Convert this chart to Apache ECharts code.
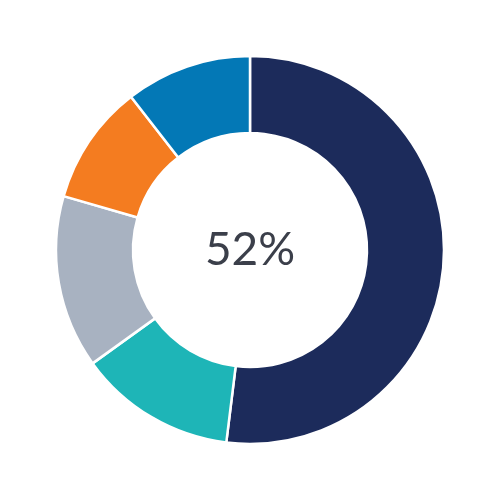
<!DOCTYPE html>
<html><head><meta charset="utf-8">
<script src="https://cdn.jsdelivr.net/npm/echarts@6/dist/echarts.min.js"></script>
<style>html,body{margin:0;padding:0;background:#fff}#c{width:500px;height:500px}</style>
</head><body><div id="c"></div>
<script>
const categories = ['A', 'B', 'C', 'D', 'E'];
const values = [51.9, 13.1, 14.4, 10.0, 10.5];
const colors = ['#1c2b5b', '#1eb5b7', '#a8b2c1', '#f47c20', '#0378b6'];
const centerLabel = '52%';

const chart = echarts.init(document.getElementById('c'));
chart.setOption({
  animation: false,
  title: {
    text: centerLabel, left: 'center', top: 'middle',
    textStyle: { fontSize: 46, fontWeight: 'normal', color: '#3b3f4a', fontFamily: 'Lato' }
  },
  series: [{
    type: 'pie',
    center: ['50%', '50%'],
    radius: [117, 194],
    startAngle: 90,
    clockwise: true,
    label: { show: false },
    labelLine: { show: false },
    itemStyle: { borderColor: '#fff', borderWidth: 2.5 },
    data: categories.map((c, i) => ({ name: c, value: values[i], itemStyle: { color: colors[i] } }))
  }]
});
</script></body></html>
